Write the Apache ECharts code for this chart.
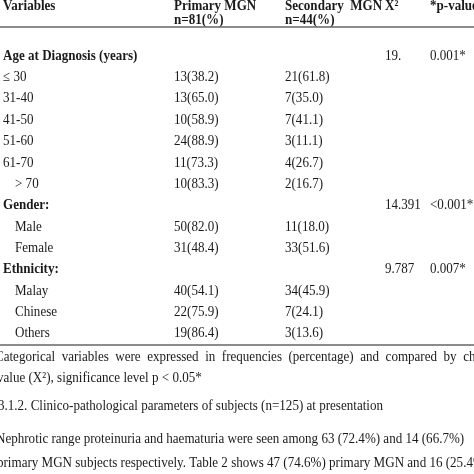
<!DOCTYPE html><html><head><meta charset="utf-8"><script src="https://cdn.jsdelivr.net/npm/echarts@6/dist/echarts.min.js"></script>
<style>html,body{margin:0;padding:0;background:#fff}#c{width:474px;height:474px}</style></head><body><div id="c"></div><script>
const headers1=["Variables","Primary MGN","Secondary  MGN","X²","*p-value"];
const headers2=["","n=81(%)","n=44(%)","",""];
const rowLabels=["Age at Diagnosis (years)","≤ 30","31-40","41-50","51-60","61-70","  > 70","Gender:","Male","Female","Ethnicity:","Malay","Chinese","Others"];
const rowBold=[1,0,0,0,0,0,0,1,0,0,1,0,0,0];
const rowIndent=[0,0,0,0,0,0,1,0,1,1,0,1,1,1];
const primary=["","13(38.2)","13(65.0)","10(58.9)","24(88.9)","11(73.3)","10(83.3)","","50(82.0)","31(48.4)","","40(54.1)","22(75.9)","19(86.4)"];
const secondary=["","21(61.8)","7(35.0)","7(41.1)","3(11.1)","4(26.7)","2(16.7)","","11(18.0)","33(51.6)","","34(45.9)","7(24.1)","3(13.6)"];
const chi=["19.","","","","","","","14.391","","","9.787","","",""];
const pval=["0.001*","","","","","","","<0.001*","","","0.007*","","",""];
const rowY=[56,77,98,120,141,163,184,205,227,248,269,291,312,333];
const notes=["Categorical  variables  were  expressed  in  frequencies  (percentage)  and  compared  by  chi-square","value (X²), significance level p < 0.05*","3.1.2. Clinico-pathological parameters of subjects (n=125) at presentation","Nephrotic range proteinuria and haematuria were seen among 63 (72.4%) and 14 (66.7%)","primary MGN subjects respectively. Table 2 shows 47 (74.6%) primary MGN and 16 (25.4%)"];
const noteY=[357,378,406,439,463];
const noteX=[-5,-3,-2,-4,-3];
const colX=[3,174,285,385,430];
const font='Liberation Serif, Times New Roman, serif';
const els=[];
function t(x,y,s,b){els.push({type:'text',x:x,y:y,scaleX:0.9,style:{text:s,font:(b?'bold ':'')+'14.5px '+font,fill:'#1a1a1a',textVerticalAlign:'middle',textAlign:'left'}});}
headers1.forEach((h,i)=>t(colX[i],6,h,true));
headers2.forEach((h,i)=>t(colX[i],20,h,true));
els.push({type:'line',shape:{x1:0,y1:27,x2:474,y2:27},style:{stroke:'#666',lineWidth:1.3}});
rowLabels.forEach((l,i)=>{
 t(colX[0]+(rowIndent[i]?12:0),rowY[i],l.trim(),rowBold[i]);
 t(colX[1],rowY[i],primary[i]);t(colX[2],rowY[i],secondary[i]);t(colX[3],rowY[i],chi[i]);t(colX[4],rowY[i],pval[i]);
});
els.push({type:'line',shape:{x1:0,y1:345,x2:474,y2:345},style:{stroke:'#666',lineWidth:1.3}});
notes.forEach((n,i)=>t(noteX[i],noteY[i],n,false));
const ch=echarts.init(document.getElementById('c'));
ch.setOption({animation:false,backgroundColor:'#fff',graphic:els});
</script></body></html>
